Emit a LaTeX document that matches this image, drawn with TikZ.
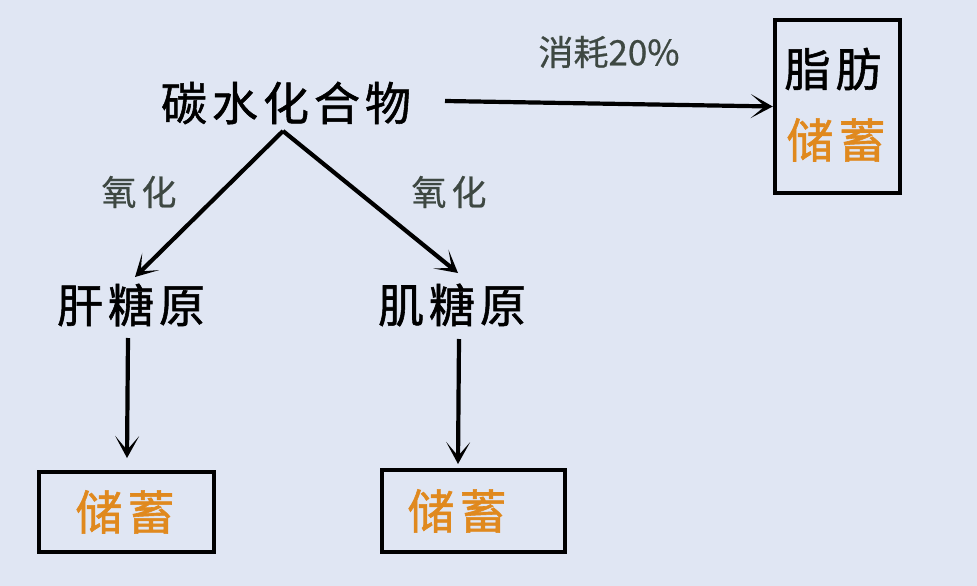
\documentclass[tikz,border=0pt]{standalone}
\usepackage{fontspec}
\setmainfont{Noto Sans CJK SC}
\newfontfamily\cjkbold[FakeBold=1.2]{Noto Sans CJK SC}
\newfontfamily\cjkmid[FakeBold=0.6]{Noto Sans CJK SC}
\usetikzlibrary{arrows.meta}
\definecolor{bgc}{HTML}{E0E6F3}
\definecolor{orng}{HTML}{E0891E}
\definecolor{lblc}{HTML}{3E4842}
\newcommand{\gp}{\hspace{5pt}}
\begin{document}
\begin{tikzpicture}[x=1pt,y=-1pt,
  big/.style={font=\cjkbold\fontsize{46}{50}\selectfont, text=black, inner sep=0pt},
  sto/.style={font=\cjkbold\fontsize{47}{50}\selectfont, text=orng, inner sep=0pt},
  lbl/.style={font=\cjkmid\fontsize{35}{40}\selectfont, text=lblc, inner sep=0pt},
  boxc/.style={draw=black, line width=4.5pt, inner sep=0pt},
  arr/.style={draw=black, line width=4.2pt, -{Stealth[length=22pt,width=24pt,inset=14pt]}}]
\fill[bgc] (0,0) rectangle (977,586);
\useasboundingbox (0,0) rectangle (977,586);

\node[big] (carb) at (286,103) {碳\gp 水\gp 化\gp 合\gp 物};
\node[big] (liver) at (131,305) {肝\gp 糖\gp 原};
\node[big] (muscle) at (452,305) {肌\gp 糖\gp 原};
\node[lbl] (ox1) at (139,192) {氧\gp 化};
\node[lbl] (ox2) at (449,192) {氧\gp 化};
\node[lbl] (cons) at (609,52) {消耗20\%};

\node[boxc, minimum width=125pt, minimum height=173pt] (fatbox) at (837.5,106.5) {};
\node[big] (fat) at (833,69) {脂\gp 肪};
\node[sto] (fatsto) at (836,140) {储\gp 蓄};

\node[boxc, minimum width=175pt, minimum height=80pt] (lbox) at (126.5,512) {};
\node[sto] (lsto) at (125,512) {储\gp 蓄};
\node[boxc, minimum width=183pt, minimum height=82pt] (rbox) at (473.5,511) {};
\node[sto] (rsto) at (457,511) {储\gp 蓄};

\coordinate (apex) at (283,131);
\coordinate (hstart) at (445,101);
\coordinate (ltip) at (135,277);
\coordinate (rtip) at (458,273);
\coordinate (lvs) at (128,338);
\coordinate (lvt) at (127,458);
\coordinate (rvs) at (459,339);
\coordinate (rvt) at (458,464);

\draw[arr] (hstart) -- (fatbox.west);
\draw[arr] (apex) -- (ltip);
\draw[arr] (apex) -- (rtip);
\draw[arr] (lvs) -- (lvt);
\draw[arr] (rvs) -- (rvt);
\end{tikzpicture}
\end{document}
